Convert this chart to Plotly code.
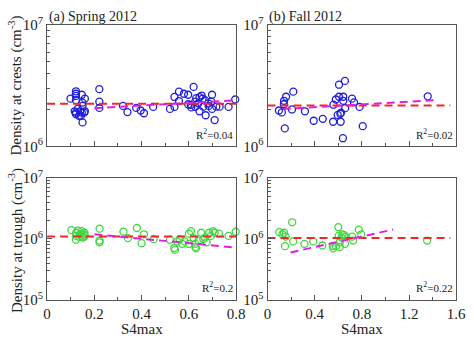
import plotly.graph_objects as go

# ---------------- data ----------------
# (a) Spring 2012, density at crests (x = S4max, y in cm^-3)
spring_crest_x = [0.099, 0.122, 0.122, 0.122, 0.122, 0.147, 0.16, 0.122, 0.122, 0.13, 0.135, 0.143,
                  0.147, 0.157, 0.16, 0.117, 0.15, 0.15, 0.15, 0.14,
                  0.221, 0.221, 0.221, 0.321, 0.34, 0.377, 0.396, 0.41, 0.449, 0.52, 0.539, 0.539,
                  0.558, 0.558, 0.579, 0.597, 0.597, 0.608, 0.62, 0.627, 0.631, 0.64, 0.645, 0.654,
                  0.658, 0.61, 0.627, 0.645, 0.661, 0.668, 0.671, 0.682, 0.684, 0.695, 0.698, 0.698,
                  0.709, 0.716, 0.73, 0.768, 0.796]
spring_crest_y = [2.48e6, 2.85e6, 2.72e6, 2.61e6, 2.41e6, 2.67e6, 2.48e6, 1.90e6, 1.85e6, 2.05e6, 1.79e6, 1.79e6,
                  1.90e6, 1.90e6, 1.95e6, 1.95e6, 2.16e6, 2.30e6, 1.58e6, 1.95e6,
                  2.97e6, 2.34e6, 2.08e6, 2.16e6, 1.92e6, 2.08e6, 1.98e6, 1.88e6, 2.12e6, 2.04e6, 2.56e6, 2.12e6,
                  2.83e6, 2.37e6, 2.72e6, 2.67e6, 2.23e6, 2.20e6, 3.10e6, 2.34e6, 2.50e6, 2.27e6, 2.55e6, 2.63e6,
                  2.48e6, 2.10e6, 2.12e6, 1.95e6, 2.13e6, 2.41e6, 1.81e6, 2.27e6, 2.16e6, 2.34e6, 2.67e6, 2.04e6,
                  1.65e6, 2.13e6, 2.13e6, 2.12e6, 2.44e6]

# (b) Fall 2012, density at crests
fall_crest_x = [0.096, 0.121, 0.138, 0.14, 0.157, 0.146, 0.207, 0.218, 0.317, 0.391, 0.468, 0.556, 0.559,
                0.579, 0.595, 0.606, 0.606, 0.617, 0.62, 0.642, 0.642, 0.656, 0.658, 0.639, 0.623,
                0.716, 0.733, 0.78, 0.807, 1.358]
fall_crest_y = [1.98e6, 1.91e6, 2.23e6, 2.38e6, 2.57e6, 1.41e6, 2.02e6, 2.83e6, 1.95e6, 1.63e6, 1.69e6, 1.60e6, 2.21e6,
                2.44e6, 1.82e6, 3.23e6, 2.57e6, 1.86e6, 1.60e6, 2.57e6, 2.38e6, 3.47e6, 2.07e6, 1.17e6, 1.90e6,
                2.48e6, 2.31e6, 2.12e6, 1.47e6, 2.59e6]

# (a) Spring 2012, density at trough
spring_trough_x = [0.103, 0.123, 0.13, 0.147, 0.158, 0.123, 0.136, 0.15, 0.16, 0.122, 0.152, 0.14, 0.155,
                   0.222, 0.222, 0.222, 0.323, 0.342, 0.38, 0.41, 0.40, 0.451, 0.52, 0.538, 0.541, 0.551,
                   0.561, 0.572, 0.582, 0.60, 0.60, 0.609, 0.62, 0.627, 0.627, 0.63, 0.641, 0.652, 0.661,
                   0.668, 0.675, 0.686, 0.693, 0.702, 0.709, 0.727, 0.768, 0.798]
spring_trough_y = [1.39e6, 1.26e6, 1.37e6, 1.34e6, 1.26e6, 1.12e6, 1.08e6, 1.09e6, 1.12e6, 0.97e6, 1.05e6, 1.20e6, 1.18e6,
                   1.47e6, 0.94e6, 0.88e6, 1.31e6, 1.03e6, 1.51e6, 1.19e6, 0.85e6, 0.99e6, 0.97e6, 0.71e6, 0.66e6, 0.91e6,
                   0.99e6, 0.83e6, 0.91e6, 0.83e6, 1.22e6, 1.34e6, 1.03e6, 0.83e6, 0.74e6, 0.70e6, 0.94e6, 1.26e6, 0.99e6,
                   1.05e6, 0.88e6, 1.26e6, 1.12e6, 1.34e6, 1.26e6, 1.22e6, 1.12e6, 1.31e6]

# (b) Fall 2012, density at trough
fall_trough_x = [0.099, 0.126, 0.14, 0.154, 0.148, 0.209, 0.217, 0.313, 0.388, 0.464, 0.553, 0.558, 0.58,
                 0.60, 0.602, 0.613, 0.613, 0.627, 0.635, 0.649, 0.657, 0.662, 0.718, 0.726, 0.773, 0.794, 1.353]
fall_trough_y = [1.29e6, 1.19e6, 1.26e6, 1.09e6, 0.76e6, 1.87e6, 0.91e6, 0.83e6, 0.91e6, 0.78e6, 0.77e6, 0.70e6, 0.76e6,
                 1.56e6, 1.12e6, 0.74e6, 0.88e6, 1.05e6, 1.19e6, 1.15e6, 0.83e6, 1.09e6, 1.09e6, 0.94e6, 1.42e6, 1.19e6, 0.94e6]

# mean (red) and fit (magenta) lines: [x0, x1], [y0, y1]
spring_crest_mean = ([0.0, 0.8], [2.25e6, 2.25e6])
spring_crest_fit = ([0.2, 0.8], [2.07e6, 2.40e6])
fall_crest_mean = ([0.0, 1.55], [2.18e6, 2.18e6])
fall_crest_fit = ([0.13, 1.43], [2.04e6, 2.41e6])
spring_trough_mean = ([0.0, 0.8], [1.09e6, 1.09e6])
spring_trough_fit = ([0.2, 0.8], [1.19e6, 0.72e6])
fall_trough_mean = ([0.0, 1.55], [1.03e6, 1.03e6])
fall_trough_fit = ([0.195, 1.064], [0.60e6, 1.42e6])

r2_labels = ["R<sup>2</sup>=0.04", "R<sup>2</sup>=0.02", "R<sup>2</sup>=0.2", "R<sup>2</sup>=0.22"]
panel_titles = ["(a) Spring 2012", "(b) Fall 2012"]
y_titles = ["Density at crests (cm<sup>-3</sup>)", "Density at trough (cm<sup>-3</sup>)"]
x_title = "S4max"

# ---------------- figure ----------------
FONT = "Liberation Serif, Times New Roman, serif"
BLUE = "#1e1ed8"
GREEN = "#3ed83e"
RED = "#f02828"
MAGENTA = "#e020e0"
AXC = "#555555"

W, H = 474, 345
xdom_l = [44.3 / W, 238.7 / W]
xdom_r = [271 / W, 465 / W]
ydom_t = [1 - 144 / H, 1 - 16 / H]
ydom_b = [1 - 306 / H, 1 - 177 / H]

fig = go.Figure()

panels = [
    ("x", "y", spring_crest_x, spring_crest_y, BLUE, spring_crest_mean, spring_crest_fit),
    ("x2", "y2", fall_crest_x, fall_crest_y, BLUE, fall_crest_mean, fall_crest_fit),
    ("x3", "y3", spring_trough_x, spring_trough_y, GREEN, spring_trough_mean, spring_trough_fit),
    ("x4", "y4", fall_trough_x, fall_trough_y, GREEN, fall_trough_mean, fall_trough_fit),
]

for xa, ya, sx, sy, col, mean, fit in panels:
    fig.add_trace(go.Scatter(x=sx, y=sy, xaxis=xa, yaxis=ya, mode="markers",
                             marker=dict(symbol="circle-open", size=7, color=col, line=dict(width=1.3, color=col)),
                             showlegend=False, cliponaxis=False))
    fig.add_trace(go.Scatter(x=mean[0], y=mean[1], xaxis=xa, yaxis=ya, mode="lines",
                             line=dict(color=RED, width=2, dash="8px,5px"), showlegend=False))
    fig.add_trace(go.Scatter(x=fit[0], y=fit[1], xaxis=xa, yaxis=ya, mode="lines",
                             line=dict(color=MAGENTA, width=2, dash="8px,5px"), showlegend=False))


def xaxis(domain, rng, dtick, minor_dt, labels, anchor):
    return dict(domain=domain, range=rng, anchor=anchor, showgrid=False, zeroline=False,
                showline=True, linecolor=AXC, linewidth=1.2, mirror=True,
                ticks="inside", ticklen=5, tickcolor=AXC, tick0=0, dtick=dtick,
                minor=dict(ticks="inside", ticklen=3, dtick=minor_dt, tick0=0, tickcolor=AXC),
                showticklabels=labels, tickfont=dict(family=FONT, size=15, color="#222"),
                tickformat="~g")


def yaxis(domain, lo, hi, anchor):
    majors = [10 ** k for k in range(lo, hi + 1)]
    minors = [m * 10 ** k for k in range(lo, hi) for m in range(2, 10)]
    return dict(domain=domain, type="log", range=[lo, hi], anchor=anchor, showgrid=False, zeroline=False,
                showline=True, linecolor=AXC, linewidth=1.2, mirror=True,
                ticks="inside", ticklen=5, tickcolor=AXC,
                tickvals=majors, ticktext=["10<sup>%d</sup>" % k for k in range(lo, hi + 1)],
                minor=dict(ticks="inside", ticklen=3, tickvals=minors, tickcolor=AXC),
                tickfont=dict(family=FONT, size=15, color="#222"))


fig.update_layout(
    width=W, height=H, margin=dict(l=0, r=0, t=0, b=0),
    paper_bgcolor="white", plot_bgcolor="white",
    font=dict(family=FONT, color="#222"),
    xaxis=xaxis(xdom_l, [0, 0.8], 0.2, 0.1, False, "y"),
    yaxis=yaxis(ydom_t, 6, 7, "x"),
    xaxis2=xaxis(xdom_r, [0, 1.6], 0.4, 0.2, False, "y2"),
    yaxis2=yaxis(ydom_t, 6, 7, "x2"),
    xaxis3=xaxis(xdom_l, [0, 0.8], 0.2, 0.1, True, "y3"),
    yaxis3=yaxis(ydom_b, 5, 7, "x3"),
    xaxis4=xaxis(xdom_r, [0, 1.6], 0.4, 0.2, True, "y4"),
    yaxis4=yaxis(ydom_b, 5, 7, "x4"),
)

ann = []
for i, (xa, ya) in enumerate([("x", "y"), ("x2", "y2"), ("x3", "y3"), ("x4", "y4")]):
    ann.append(dict(text=r2_labels[i], xref=xa + " domain", yref=ya + " domain", x=0.995, y=0.03,
                    xanchor="right", yanchor="bottom", showarrow=False,
                    font=dict(family=FONT, size=11, color="#222")))
ann.append(dict(text=panel_titles[0], xref="paper", yref="paper", x=44 / W, y=1 - 7 / H,
                xanchor="left", yanchor="middle", showarrow=False, font=dict(family=FONT, size=14, color="#222")))
ann.append(dict(text=panel_titles[1], xref="paper", yref="paper", x=270 / W, y=1 - 7 / H,
                xanchor="left", yanchor="middle", showarrow=False, font=dict(family=FONT, size=14, color="#222")))
ann.append(dict(text=y_titles[0], xref="paper", yref="paper", x=12 / W, y=1 - 80 / H,
                xanchor="center", yanchor="middle", textangle=-90, showarrow=False,
                font=dict(family=FONT, size=15, color="#222")))
ann.append(dict(text=y_titles[1], xref="paper", yref="paper", x=12 / W, y=1 - 243 / H,
                xanchor="center", yanchor="middle", textangle=-90, showarrow=False,
                font=dict(family=FONT, size=15, color="#222")))
for xc in [(44.3 + 238.7) / 2, (271 + 465) / 2]:
    ann.append(dict(text=x_title, xref="paper", yref="paper", x=xc / W, y=1 - 337 / H,
                    xanchor="center", yanchor="middle", showarrow=False,
                    font=dict(family=FONT, size=15, color="#222")))
fig.update_layout(annotations=ann)

fig.write_html("out.html")
